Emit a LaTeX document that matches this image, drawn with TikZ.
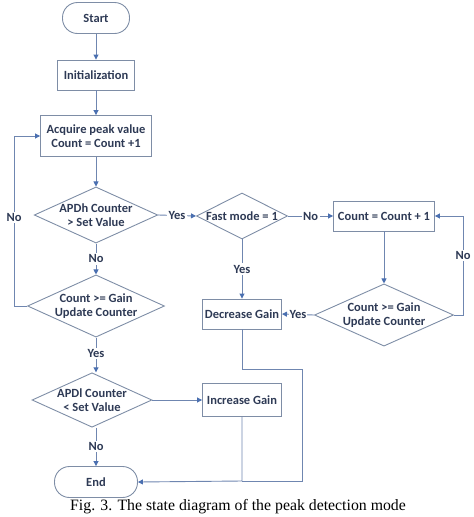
\documentclass[tikz,border=0pt]{standalone}
\usepackage{fontspec}
\setmainfont{Carlito}
\newfontfamily\capfont{Liberation Serif}
\usetikzlibrary{shapes.geometric,arrows.meta}
\definecolor{lc}{HTML}{6F86B0}
\definecolor{bc}{HTML}{7E8DA6}
\definecolor{tc}{HTML}{2E3A55}
\definecolor{ac}{HTML}{4A6FB0}
\begin{document}
\begin{tikzpicture}[x=1pt,y=-1pt,
  every node/.style={font=\fontsize{12.5}{14}\selectfont\bfseries, text=tc},
  procbox/.style={draw=bc, line width=0.9pt, minimum width=#1, minimum height=30pt, inner sep=0pt, align=center},
  termbox/.style={draw=bc, line width=0.9pt, rounded corners=15pt, minimum width=#1, minimum height=31pt, inner sep=0pt},
  decbox/.style={draw=bc, line width=0.9pt, diamond, aspect=2.2, inner sep=0pt, align=center},
  conn/.style={draw=lc, line width=0.9pt},
  arr/.style={conn, -{Triangle[length=5pt,width=5pt,fill=ac,color=ac]}},
  lbl/.style={fill=white, inner sep=1.5pt}
]
\useasboundingbox (0,0) rectangle (474,517);

\node[termbox=67pt] (start) at (96,18) {Start};
\node[procbox=77pt] (init) at (96,75) {Initialization};
\node[procbox=111pt, minimum height=41pt] (acq) at (96,136) {Acquire peak value\\Count = Count +1};
\node[decbox, minimum width=122pt, minimum height=56pt] (d1) at (96,215) {APDh Counter\\ > Set Value};
\node[decbox, minimum width=122pt, minimum height=56pt] (d2) at (96,306) {Count >= Gain\\Update Counter};
\node[decbox, minimum width=117pt, minimum height=54pt] (d3) at (92,400) {APDl Counter\\ < Set Value};
\node[termbox=83pt] (end) at (96,482) {End};

\node[decbox, minimum width=91pt, minimum height=46pt] (fm) at (242,216) {Fast mode = 1};
\node[procbox=101pt] (cnt) at (384,216) {Count = Count + 1};
\node[decbox, minimum width=139pt, minimum height=45pt] (d4) at (384,315) {Count >= Gain\\Update Counter};
\node[procbox=79pt] (dec) at (242,314) {Decrease Gain};
\node[procbox=79pt, minimum height=33pt] (inc) at (242,400) {Increase Gain};

\coordinate (lx) at (14,0);
\coordinate (rx) at (463,0);
\coordinate (j1) at (242,369);
\coordinate (j2) at (302,369);
\coordinate (j3) at (302,481);
\coordinate (j4) at (242,481);

\draw[arr] (start) -- (init);
\draw[arr] (init) -- (acq);
\draw[arr] (acq) -- (d1);
\draw[arr] (d1) -- node[lbl, pos=0.5]{No} (d2);
\draw[arr] (d2.south) -- node[lbl, pos=0.45]{Yes} (d3.north -| d2.south);
\draw[arr] (d3.south -| end.north) -- node[lbl, pos=0.5]{No} (end);
\draw[arr] (d2.west) -- (d2.west -| lx) -- node[lbl, pos=0.52]{No} (acq.west -| lx) -- (acq.west);
\draw[arr] (d1.east) -- node[lbl, pos=0.5]{Yes} (fm.west);
\draw[arr] (fm.east) -- node[lbl, pos=0.5]{No} (cnt.west);
\draw[arr] (fm.south) -- node[lbl, pos=0.5]{Yes} (dec.north);
\draw[arr] (cnt.south) -- (d4.north);
\draw[arr] (d4.west) -- node[lbl, pos=0.5, inner sep=1pt]{Yes} (dec.east);
\draw[arr] (d4.east) -- (d4.east -| rx) -- node[lbl, pos=0.6]{No} (cnt.east -| rx) -- (cnt.east);
\draw[arr] (d3.east) -- (inc.west);
\draw[conn] (dec.south) -- (j1) -- (j2) -- (j3) -- (j4);
\draw[arr] (inc.south) -- (j4) -- (end.east);

\node[font=\capfont\fontsize{15.8}{18}\selectfont, text=black] (cap) at (238,507) {Fig. 3. The state diagram of the peak detection mode};
\end{tikzpicture}
\end{document}
